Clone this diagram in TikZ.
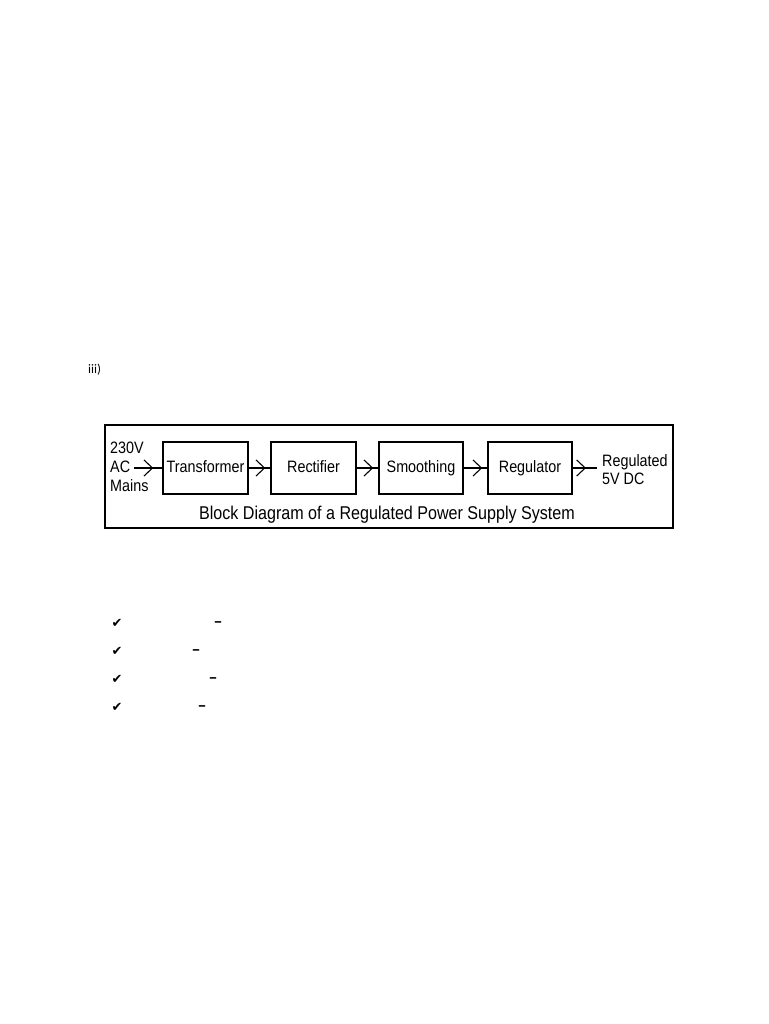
\documentclass[tikz,border=0pt]{standalone}
\usepackage{fontspec}
\setmainfont{Liberation Sans}
\newfontfamily\narrowf[FakeStretch=0.87]{Liberation Sans}
\newfontfamily\carl{Carlito}
\newfontfamily\djv{DejaVu Sans}
\usetikzlibrary{arrows.meta,decorations.markings}
\begin{document}
\begin{tikzpicture}[x=1pt,y=-1pt,
  blk/.style={draw, line width=1.4pt, minimum height=52pt, inner sep=0pt,
    text height=11.5pt, text depth=3.3pt,
    font=\narrowf\fontsize{16.5}{18}\selectfont},
  lbl/.style={font=\narrowf\fontsize{16.5}{18}\selectfont, inner sep=0pt, anchor=west,
    text height=11.5pt, text depth=3.3pt},
  conn/.style={line width=1.1pt, postaction={decorate},
    decoration={markings, mark=at position #1 with
      {\arrow{Straight Barb[length=8.5pt,width=16pt,line width=1.1pt]}}}},
  chk/.style={font=\djv\fontsize{13}{15}\selectfont, inner sep=0pt},
  dsh/.style={font=\carl\bfseries\fontsize{18}{20}\selectfont, inner sep=0pt},
]
\useasboundingbox[fill=white] (0,0) rectangle (768,1024);

\node[font=\carl\fontsize{13}{15}\selectfont, inner sep=0pt, anchor=west] (iii) at (88,370) {iii)};

\node[draw, line width=1.8pt, minimum width=568pt, minimum height=103pt, inner sep=0pt] (frame) at (389,476.5) {};

\node[blk, minimum width=85pt] (tr) at (205.5,468) {Transformer};
\node[blk, minimum width=85pt] (re) at (313.5,468) {Rectifier};
\node[blk, minimum width=84pt] (sm) at (421,468) {Smoothing};
\node[blk, minimum width=84pt] (rg) at (530,468) {Regulator};

\node[lbl] (v230) at (110,449) {230V};
\node[lbl] (ac) at (110,468) {AC};
\node[lbl] (mains) at (110,487) {Mains};

\node[lbl] (out1) at (602,462) {Regulated};
\node[lbl] (out2) at (602,480) {5V DC};
\coordinate (outend) at (597,468);

\draw[conn=-9pt] ([xshift=4pt]ac.east) -- (tr.west);
\draw[conn=-5pt] (tr.east) -- (re.west);
\draw[conn=-5pt] (re.east) -- (sm.west);
\draw[conn=-5pt] (sm.east) -- (rg.west);
\draw[conn=-11pt] (rg.east) -- (outend);

\node[font=\narrowf\fontsize{18.5}{20}\selectfont, inner sep=0pt] (cap) at (387,515) {Block Diagram of a Regulated Power Supply System};

\node[chk] (c1) at (117,623) {✔};
\node[chk] (c2) at (117,651) {✔};
\node[chk] (c3) at (117,679) {✔};
\node[chk] (c4) at (117,707) {✔};
\node[dsh] (d1) at (218,625) {–};
\node[dsh] (d2) at (196,653) {–};
\node[dsh] (d3) at (213,681) {–};
\node[dsh] (d4) at (202,709) {–};
\end{tikzpicture}
\end{document}
